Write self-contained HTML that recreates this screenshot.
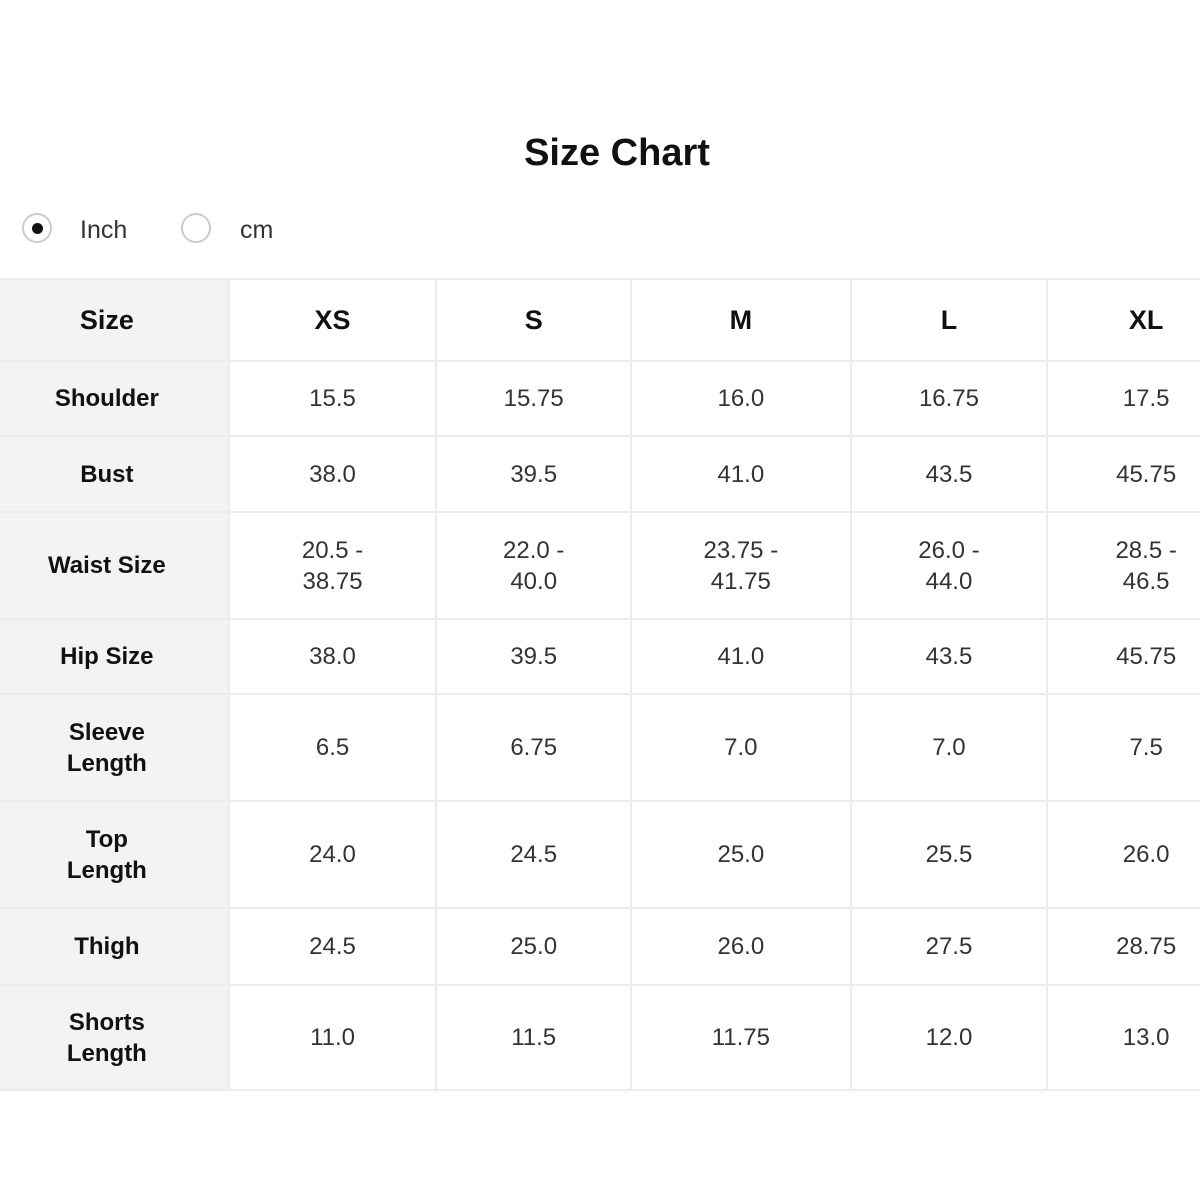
<!DOCTYPE html>
<html><head><meta charset="utf-8"><style>
body{margin:0;width:1200px;height:1200px;background:#fff;position:relative;overflow:hidden;font-family:"Liberation Sans",sans-serif;color:#222}
.t{position:absolute;left:0;top:132px;width:1234px;text-align:center;font-size:38px;font-weight:bold;color:#111}
.r{position:absolute;width:30px;height:30px;border:2px solid #ccc;border-radius:50%;box-sizing:border-box}
.dot{position:absolute;left:8px;top:8px;width:11px;height:11px;border-radius:50%;background:#111}
.lab{position:absolute;font-size:25px;color:#333}
table{position:absolute;left:-2px;top:278px;border-collapse:collapse;width:1248px}
td{border:2px solid #ececec;text-align:center;font-size:24px;color:#333;line-height:31px;padding:0}
td.h{background:#f3f3f3;font-weight:bold;color:#111;padding-right:14px}
tr.hd td{font-weight:bold;font-size:27px;color:#111}
</style></head><body>
<div class="t">Size Chart</div>
<div class="r" style="left:22px;top:213px"><div class="dot"></div></div>
<div class="lab" style="left:80px;top:216px">Inch</div>
<div class="r" style="left:181px;top:213px"></div>
<div class="lab" style="left:240px;top:216px">cm</div>
<table>
<colgroup><col style="width:230px"><col style="width:208px"><col style="width:195px"><col style="width:220px"><col style="width:197px"><col style="width:198px"></colgroup>
<tr class="hd" style="height:82px"><td class="h">Size</td><td>XS</td><td>S</td><td>M</td><td>L</td><td>XL</td></tr>
<tr style="height:75px"><td class="h">Shoulder</td><td>15.5</td><td>15.75</td><td>16.0</td><td>16.75</td><td>17.5</td></tr>
<tr style="height:76px"><td class="h">Bust</td><td>38.0</td><td>39.5</td><td>41.0</td><td>43.5</td><td>45.75</td></tr>
<tr style="height:107px"><td class="h">Waist Size</td><td>20.5 -<br>38.75</td><td>22.0 -<br>40.0</td><td>23.75 -<br>41.75</td><td>26.0 -<br>44.0</td><td>28.5 -<br>46.5</td></tr>
<tr style="height:75px"><td class="h">Hip Size</td><td>38.0</td><td>39.5</td><td>41.0</td><td>43.5</td><td>45.75</td></tr>
<tr style="height:107px"><td class="h">Sleeve<br>Length</td><td>6.5</td><td>6.75</td><td>7.0</td><td>7.0</td><td>7.5</td></tr>
<tr style="height:107px"><td class="h">Top<br>Length</td><td>24.0</td><td>24.5</td><td>25.0</td><td>25.5</td><td>26.0</td></tr>
<tr style="height:77px"><td class="h">Thigh</td><td>24.5</td><td>25.0</td><td>26.0</td><td>27.5</td><td>28.75</td></tr>
<tr style="height:105px"><td class="h">Shorts<br>Length</td><td>11.0</td><td>11.5</td><td>11.75</td><td>12.0</td><td>13.0</td></tr>
</table>
</body></html>
